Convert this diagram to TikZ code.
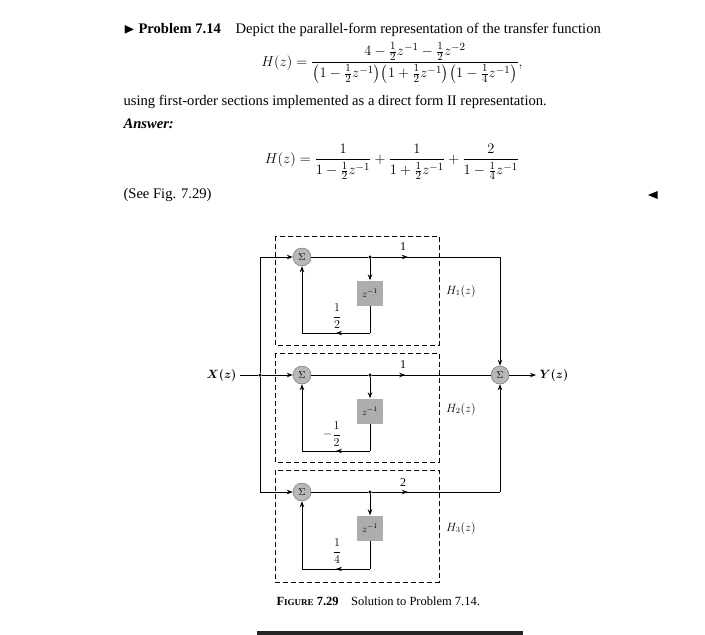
\documentclass[tikz,border=0pt]{standalone}
\usepackage{amsmath,amssymb}
\usepackage{fontspec}
\setmainfont{Liberation Serif}
\usetikzlibrary{arrows.meta,decorations.markings,shapes.geometric}
\begin{document}
\begin{tikzpicture}[x=1pt,y=-1pt,font=\fontsize{14.6}{17}\selectfont,
  sig/.style={circle,draw=black!60,fill=black!28,minimum size=18pt,inner sep=0pt,font=\fontsize{10}{11}\selectfont},
  del/.style={draw=none,fill=black!32,minimum width=26pt,minimum height=25pt,inner sep=0pt,font=\fontsize{10}{11}\selectfont\itshape},
  sec/.style={draw,line width=0.9pt,dash pattern=on 5pt off 3pt},
  ln/.style={draw,line width=0.9pt},
  ar/.style={ln,-{Stealth[length=6pt]}},
  mid/.style={ln,postaction={decorate},decoration={markings,mark=at position #1 with {\arrow{Stealth[length=6pt]}}}},
  dot/.style={circle,fill,inner sep=0pt,minimum size=3.5pt},
  lab/.style={font=\fontsize{12}{13}\selectfont}]
\useasboundingbox (0,0) rectangle (705,635);
% text
\node[anchor=west] (t1) at (120,30) {$\blacktriangleright$ \textbf{Problem 7.14}\quad Depict the parallel-form representation of the transfer function};
\node[font=\fontsize{15.5}{18}\selectfont] (f1) at (392,63) {$H(z)=\dfrac{4-\frac12 z^{-1}-\frac12 z^{-2}}{\bigl(1-\frac12 z^{-1}\bigr)\bigl(1+\frac12 z^{-1}\bigr)\bigl(1-\frac14 z^{-1}\bigr)},$};
\node[anchor=west] (t2) at (120,102) {using first-order sections implemented as a direct form II representation.};
\node[anchor=west] (t3) at (120,124) {\textbf{\textit{Answer:}}};
\node[font=\fontsize{15.5}{18}\selectfont] (f2) at (392,162) {$H(z)=\dfrac{1}{1-\frac12 z^{-1}}+\dfrac{1}{1+\frac12 z^{-1}}+\dfrac{2}{1-\frac14 z^{-1}}$};
\node[anchor=west] (t4) at (120,195) {(See Fig. 7.29)};
\node[fill,isosceles triangle,shape border rotate=180,inner sep=0pt,minimum size=8pt] (tri) at (655,195) {};
% boxes
\draw[sec] (275,236) rectangle (439,345);
\draw[sec] (275,353) rectangle (439,462);
\draw[sec] (275,470) rectangle (439,582);
% nodes
\node[anchor=east,lab] (X) at (240,375) {$\boldsymbol{X(z)}$};
\node[sig] (s1) at (302,257) {$\Sigma$};
\node[sig] (s2) at (302,375) {$\Sigma$};
\node[sig] (s3) at (302,492) {$\Sigma$};
\node[sig] (so) at (500,375) {$\Sigma$};
\node[anchor=west,lab] (Y) at (536,375) {$\boldsymbol{Y(z)}$};
\node[del] (d1) at (370,293) {$z^{-1}$};
\node[del] (d2) at (370,411) {$z^{-1}$};
\node[del] (d3) at (370,528) {$z^{-1}$};
\node[dot] (j0) at (260,375) {};
\node[dot] (b1) at (370,257) {};
\node[dot] (b2) at (370,375) {};
\node[dot] (b3) at (370,492) {};
\coordinate (e1) at (500,257);
\coordinate (e3) at (500,492);
\coordinate (fa1) at (370,333); \coordinate (fb1) at (302,333);
\coordinate (fa2) at (370,451); \coordinate (fb2) at (302,451);
\coordinate (fa3) at (370,569); \coordinate (fb3) at (302,569);
% input
\draw[ln] (X) -- (j0);
\draw[ar] (j0) -- (s2);
\draw[ar] (j0) |- (s1);
\draw[ar] (j0) |- (s3);
% sections
\foreach \i in {1,2,3}{
  \draw[ln] (s\i) -- (b\i);
  \draw[ar] (b\i) -- (d\i);
  \draw[ln] (d\i) -- (fa\i);
  \draw[mid=0.5] (fa\i) -- (fb\i);
  \draw[ar] (fb\i) -- (s\i);
}
\draw[mid=0.28] (b1) -- (e1);
\draw[ar] (e1) -- (so);
\draw[mid=0.28] (b2) -- (so);
\draw[mid=0.28] (b3) -- (e3);
\draw[ar] (e3) -- (so);
\draw[ar] (so) -- (Y);
% labels
\node[lab] (g1) at (403,247) {1};
\node[lab] (g2) at (403,365) {1};
\node[lab] (g3) at (403,483) {2};
\node[lab] (k1) at (337,316) {$\dfrac{1}{2}$};
\node[lab] (k2) at (332,434) {$-\dfrac{1}{2}$};
\node[lab] (k3) at (337,551) {$\dfrac{1}{4}$};
\node[lab] (h1) at (461,291) {$H_1(z)$};
\node[lab] (h2) at (461,409) {$H_2(z)$};
\node[lab] (h3) at (461,528) {$H_3(z)$};
\node[anchor=west,font=\fontsize{12.5}{14}\selectfont] (cap) at (273,601) {\textbf{F{\small IGURE} 7.29}\quad Solution to Problem 7.14.};
\fill[black!85] (257,631) rectangle (523,635);
\end{tikzpicture}
\end{document}
